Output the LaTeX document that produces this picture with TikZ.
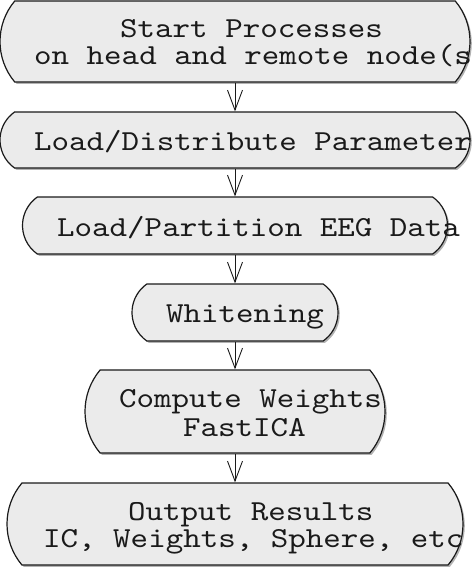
\documentclass[tikz,border=0pt]{standalone}
\usepackage{fontspec}
\usetikzlibrary{shapes.misc,shadows,arrows.meta}
\newfontfamily\flowfont{lmmono10-regular.otf}[FakeStretch=1.15]
\definecolor{boxgray}{HTML}{EBEBEB}
\definecolor{inkgray}{HTML}{1A1A1A}

\begin{document}
\begin{tikzpicture}[x=1pt,y=-1pt,
	stage/.style={rounded rectangle, rounded rectangle arc length=#1, draw=inkgray,
		line width=1.2pt, fill=boxgray, inner sep=0pt,
		drop shadow={shadow xshift=1.8pt, shadow yshift=-1.8pt, fill=black, opacity=0.3}},
	steptext/.style={inner sep=0pt, align=left, text=inkgray,
		font=\flowfont\fontsize{29pt}{27pt}\selectfont, anchor=base west},
	flow/.style={-{Straight Barb[length=20pt,width=15pt]}, line width=0.9pt, draw=inkgray}]
	\useasboundingbox (0,0) rectangle (474,568);
	
	% boxes
	\node[stage=80, minimum width=470pt, minimum height=81pt] (start) at (235,41.5) {};
	\node[stage=110, minimum width=470pt, minimum height=56pt] (params) at (235,140) {};
	\node[stage=110, minimum width=425pt, minimum height=57pt] (data) at (235,225.5) {};
	\node[stage=110, minimum width=206pt, minimum height=57pt] (whiten) at (235,312.5) {};
	\node[stage=80, minimum width=300pt, minimum height=83pt] (weights) at (235,411.5) {};
	\node[stage=80, minimum width=456pt, minimum height=82pt] (output) at (235,524) {};
	
	% texts (base = last line)
	\node[steptext] (start-txt) at (34,64) {\hspace*{86pt}Start Processes\\on head and remote node(s)};
	\node[steptext] (params-txt) at (34,150) {Load/Distribute Parameters};
	\node[steptext] (data-txt) at (57,236) {Load/Partition EEG Data};
	\node[steptext] (whiten-txt) at (166,322) {Whitening};
	\node[steptext] (weights-txt) at (119,436) {Compute Weights\\[2pt]\hspace*{64pt}FastICA};
	\node[steptext] (output-txt) at (43,547) {\hspace*{85pt}Output Results\\IC, Weights, Sphere, etc};
	
	% arrows
	\foreach \a/\b in {start/params,params/data,data/whiten,whiten/weights,weights/output}
		\draw[flow] (\a) -- (\b);
\end{tikzpicture}
\end{document}
